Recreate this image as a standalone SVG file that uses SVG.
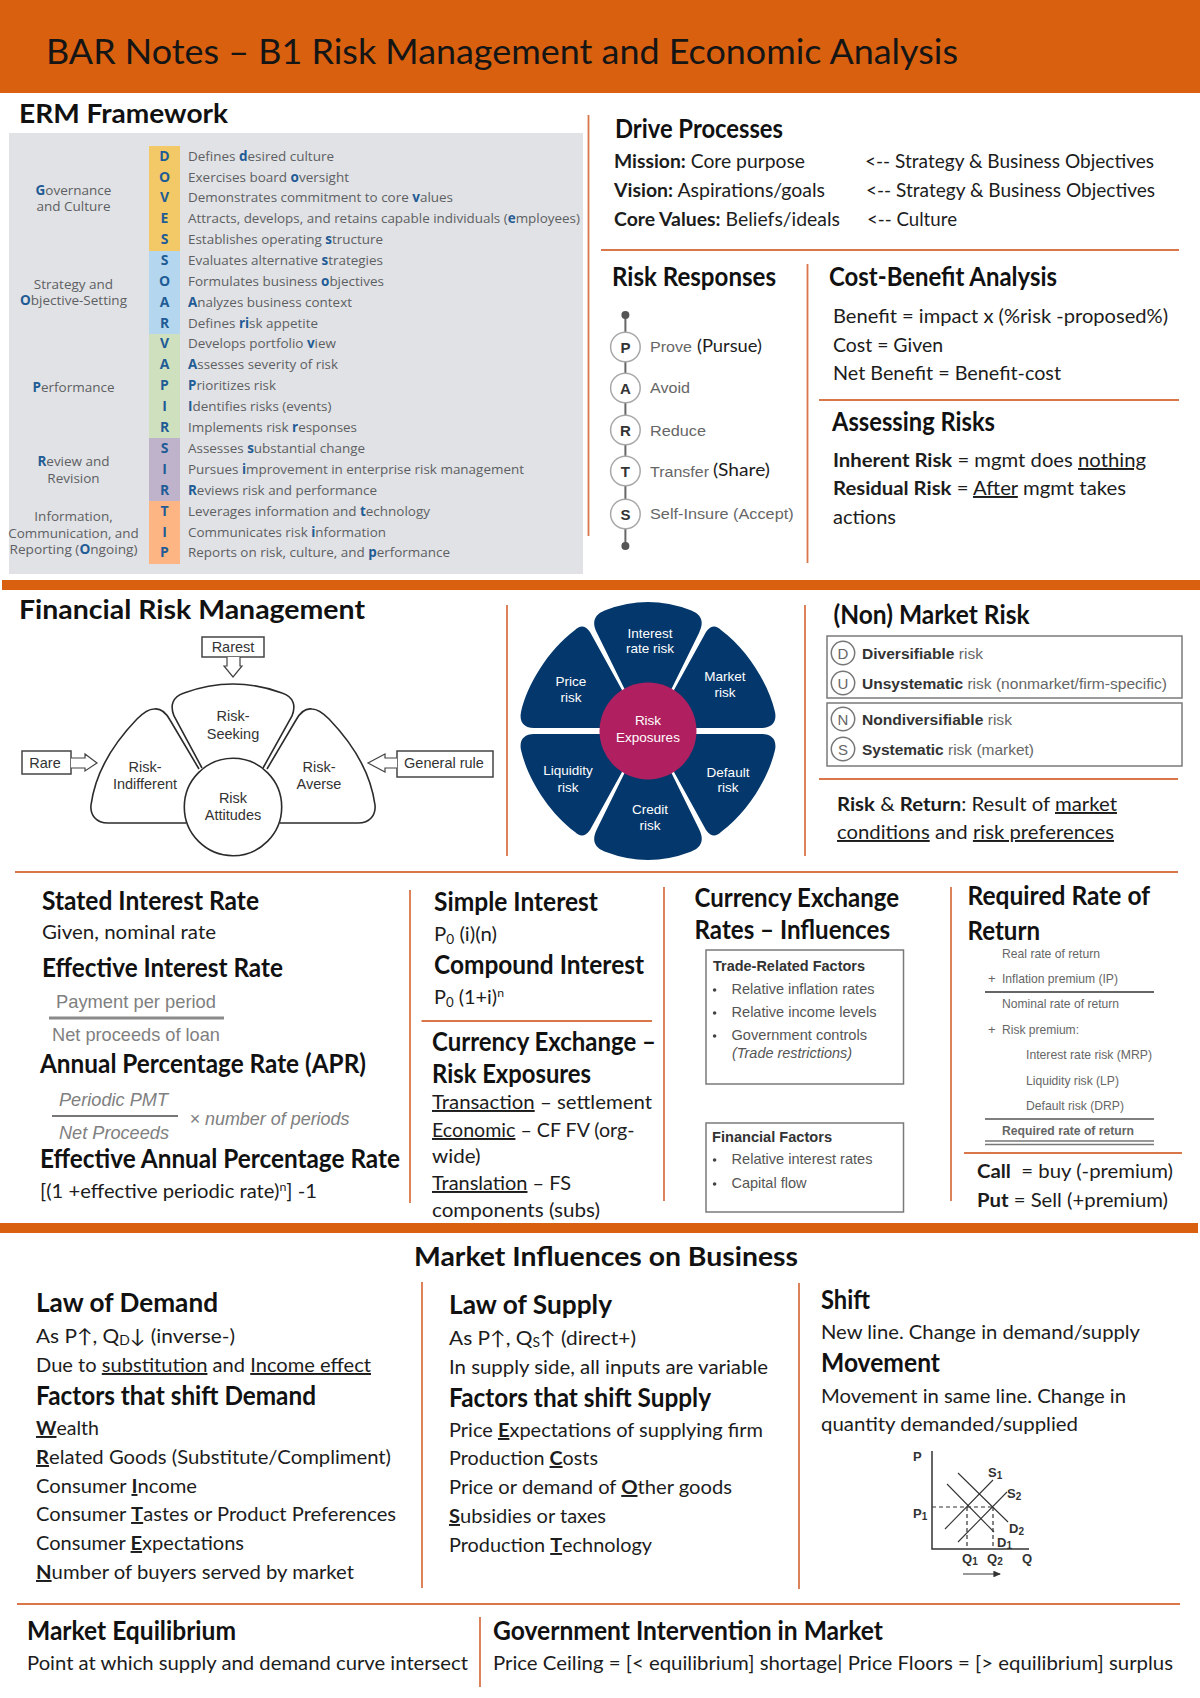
<svg xmlns="http://www.w3.org/2000/svg" xmlns:xlink="http://www.w3.org/1999/xlink" width="1200" height="1698" viewBox="0 0 1200 1698">
<style>
text{white-space:pre}
.h{font:700 26px Lato,"DejaVu Sans",sans-serif;fill:#111}
.b{font:400 19.5px Lato,"DejaVu Sans",sans-serif;fill:#1c1c1c}
.e{font:400 13.5px "Open Sans",sans-serif;fill:#5d5f63}
.eb{font-weight:700;fill:#1f5c96}
.el{font:700 14px "Open Sans",sans-serif;fill:#1f5c96;text-anchor:middle}
.a{font:400 14.5px "Liberation Sans",sans-serif;fill:#333}
.g{font:400 15px "Liberation Sans",sans-serif;fill:#666}
.gl{font:400 19px "Liberation Sans",sans-serif;fill:#808080}
.s{font:400 13px "Liberation Sans",sans-serif;fill:#666}
.wt{font:400 13.5px "Liberation Sans",sans-serif;fill:#fff;text-anchor:middle}
.k{font:700 13px "Liberation Sans",sans-serif;fill:#333}
.m{text-anchor:middle}
.w{font-weight:700}
.i{font-style:italic}
.u{text-decoration:underline}
.band{fill:#d9600f}
.hr{stroke:#d9764a;stroke-width:1.8;fill:none}
.shape{fill:#fff;stroke:#2b2b2b;stroke-width:1.6}
.box{fill:#fff;stroke:#7a7a7a;stroke-width:1.5}
.c{fill:#fff;stroke:#a8a8a8;stroke-width:1.5}
.gr{stroke:#666;stroke-width:2;fill:none}
.ch{stroke:#333;stroke-width:1.1;fill:none}
.da{stroke:#333;stroke-width:1.2;stroke-dasharray:4 3;fill:none}
</style>
<defs>
<path id="petal-side" d="M622 690L590 632C585 625 580 625 575 630C548 650 527 685 521 712C519 722 524 728 534 728L612 728Z" fill="#04386c"/>
<path id="petal-top" d="M626 692L597 633C591 621 595 614 606 610Q648 594 690 610C701 614 705 621 699 633L670 692Z" fill="#04386c"/>
<marker id="ah" markerWidth="7" markerHeight="6" refX="6" refY="3" orient="auto"><path d="M0 0L7 3L0 6Z" fill="#333"/></marker>
</defs>
<rect width="1200" height="1698" fill="#fff"/>
<g id="title-band">
<rect class="band" x="0" y="0" width="1200" height="93"/>
<text x="46" y="64" style="font:400 35px Lato,sans-serif;fill:#151515" textLength="912" lengthAdjust="spacingAndGlyphs">BAR Notes – B1 Risk Management and Economic Analysis</text>
</g>
<g id="bands">
<rect class="band" x="2" y="580" width="1198" height="10"/>
<rect class="band" x="0" y="1223" width="1198" height="10"/>
</g>
<g id="dividers">
<path class="hr" d="M588.5 115V536M807.5 264V563M601 250H1179M819 400H1179M507 605V856M805 605V856M819 779H1178M15 872H1178M410 890V1203M664 887V1201M951 887V1201M421.5 1021H652M964 1153H1182M422 1282V1588M799 1283V1589M17 1604H1180M480 1617V1687"/>
</g>
<g id="erm">
<text class="h" x="19" y="123" textLength="209" lengthAdjust="spacingAndGlyphs">ERM Framework</text>
<rect x="9" y="133" width="574" height="441" fill="#e1e2e5"/>
<rect x="149" y="146" width="31" height="105" fill="#f2c966"/>
<rect x="149" y="251" width="31" height="83" fill="#b4d7ef"/>
<rect x="149" y="334" width="31" height="104" fill="#cfe0bf"/>
<rect x="149" y="438" width="31" height="63" fill="#bfb3cc"/>
<rect x="149" y="501" width="31" height="63" fill="#fdb583"/>
<g id="erm-letters">
<text class="el" x="164.5" y="161">D</text><text class="el" x="164.5" y="182">O</text><text class="el" x="164.5" y="202">V</text><text class="el" x="164.5" y="223">E</text><text class="el" x="164.5" y="244">S</text><text class="el" x="164.5" y="265">S</text><text class="el" x="164.5" y="286">O</text><text class="el" x="164.5" y="307">A</text><text class="el" x="164.5" y="328">R</text><text class="el" x="164.5" y="348">V</text><text class="el" x="164.5" y="369">A</text><text class="el" x="164.5" y="390">P</text><text class="el" x="164.5" y="411">I</text><text class="el" x="164.5" y="432">R</text><text class="el" x="164.5" y="453">S</text><text class="el" x="164.5" y="474">I</text><text class="el" x="164.5" y="495">R</text><text class="el" x="164.5" y="516">T</text><text class="el" x="164.5" y="537">I</text><text class="el" x="164.5" y="557">P</text>
</g>
<g id="erm-rows">
<text class="e" x="188" y="161" textLength="146" lengthAdjust="spacingAndGlyphs">Defines <tspan class="eb">d</tspan>esired culture</text>
<text class="e" x="188" y="182" textLength="161" lengthAdjust="spacingAndGlyphs">Exercises board <tspan class="eb">o</tspan>versight</text>
<text class="e" x="188" y="202" textLength="265" lengthAdjust="spacingAndGlyphs">Demonstrates commitment to core <tspan class="eb">v</tspan>alues</text>
<text class="e" x="188" y="223" textLength="392" lengthAdjust="spacingAndGlyphs">Attracts, develops, and retains capable individuals (<tspan class="eb">e</tspan>mployees)</text>
<text class="e" x="188" y="244" textLength="195" lengthAdjust="spacingAndGlyphs">Establishes operating <tspan class="eb">s</tspan>tructure</text>
<text class="e" x="188" y="265" textLength="195" lengthAdjust="spacingAndGlyphs">Evaluates alternative <tspan class="eb">s</tspan>trategies</text>
<text class="e" x="188" y="286" textLength="196" lengthAdjust="spacingAndGlyphs">Formulates business <tspan class="eb">o</tspan>bjectives</text>
<text class="e" x="188" y="307" textLength="164" lengthAdjust="spacingAndGlyphs"><tspan class="eb">A</tspan>nalyzes business context</text>
<text class="e" x="188" y="328" textLength="130" lengthAdjust="spacingAndGlyphs">Defines <tspan class="eb">ri</tspan>sk appetite</text>
<text class="e" x="188" y="348" textLength="148" lengthAdjust="spacingAndGlyphs">Develops portfolio <tspan class="eb">v</tspan>iew</text>
<text class="e" x="188" y="369" textLength="150" lengthAdjust="spacingAndGlyphs"><tspan class="eb">A</tspan>ssesses severity of risk</text>
<text class="e" x="188" y="390" textLength="88" lengthAdjust="spacingAndGlyphs"><tspan class="eb">P</tspan>rioritizes risk</text>
<text class="e" x="188" y="411" textLength="143.5" lengthAdjust="spacingAndGlyphs"><tspan class="eb">I</tspan>dentifies risks (events)</text>
<text class="e" x="188" y="432" textLength="169" lengthAdjust="spacingAndGlyphs">Implements risk <tspan class="eb">r</tspan>esponses</text>
<text class="e" x="188" y="453" textLength="177" lengthAdjust="spacingAndGlyphs">Assesses <tspan class="eb">s</tspan>ubstantial change</text>
<text class="e" x="188" y="474" textLength="336" lengthAdjust="spacingAndGlyphs">Pursues <tspan class="eb">i</tspan>mprovement in enterprise risk management</text>
<text class="e" x="188" y="495" textLength="189" lengthAdjust="spacingAndGlyphs"><tspan class="eb">R</tspan>eviews risk and performance</text>
<text class="e" x="188" y="516" textLength="242" lengthAdjust="spacingAndGlyphs">Leverages information and <tspan class="eb">t</tspan>echnology</text>
<text class="e" x="188" y="537" textLength="198" lengthAdjust="spacingAndGlyphs">Communicates risk <tspan class="eb">i</tspan>nformation</text>
<text class="e" x="188" y="557" textLength="262" lengthAdjust="spacingAndGlyphs">Reports on risk, culture, and <tspan class="eb">p</tspan>erformance</text>
</g>
<g id="erm-groups">
<text class="e m" x="73.5" y="195"><tspan class="eb">G</tspan>overnance</text>
<text class="e m" x="73.5" y="211">and Culture</text>
<text class="e m" x="73.5" y="289">Strategy and</text>
<text class="e m" x="73.5" y="305"><tspan class="eb">O</tspan>bjective-Setting</text>
<text class="e m" x="73.5" y="392"><tspan class="eb">P</tspan>erformance</text>
<text class="e m" x="73.5" y="466"><tspan class="eb">R</tspan>eview and</text>
<text class="e m" x="73.5" y="483">Revision</text>
<text class="e m" x="73.5" y="521">Information,</text>
<text class="e m" x="73.5" y="538" textLength="130.5" lengthAdjust="spacingAndGlyphs">Communication, and</text>
<text class="e m" x="73.5" y="554" textLength="128" lengthAdjust="spacingAndGlyphs">Reporting (<tspan class="eb">O</tspan>ngoing)</text>
</g>
</g>
<g id="drive-processes">
<text class="h" x="615" y="138" textLength="168" lengthAdjust="spacingAndGlyphs">Drive Processes</text>
<text class="b" x="614" y="168" textLength="191" lengthAdjust="spacingAndGlyphs"><tspan class="w">Mission:</tspan> Core purpose</text>
<text class="b" x="614" y="197" textLength="211" lengthAdjust="spacingAndGlyphs"><tspan class="w">Vision:</tspan> Aspirations/goals</text>
<text class="b" x="614" y="226" textLength="226" lengthAdjust="spacingAndGlyphs"><tspan class="w">Core Values:</tspan> Beliefs/ideals</text>
<text class="b" x="865" y="168" textLength="289" lengthAdjust="spacingAndGlyphs">&lt;-- Strategy &amp; Business Objectives</text>
<text class="b" x="866" y="197" textLength="289" lengthAdjust="spacingAndGlyphs">&lt;-- Strategy &amp; Business Objectives</text>
<text class="b" x="867" y="226" textLength="90" lengthAdjust="spacingAndGlyphs">&lt;-- Culture</text>
</g>
<g id="risk-responses">
<text class="h" x="612" y="286" textLength="164" lengthAdjust="spacingAndGlyphs">Risk Responses</text>
<path class="gr" d="M625.4 315V546"/>
<circle cx="625.4" cy="315" r="4" fill="#555"/><circle cx="625.4" cy="546" r="4" fill="#555"/>
<g id="resp-p"><circle class="c" cx="625.4" cy="347" r="14.8"/><text class="k m" x="625.4" y="352.5" style="font-size:15px">P</text></g>
<g id="resp-a"><circle class="c" cx="625.4" cy="388" r="14.8"/><text class="k m" x="625.4" y="393.5" style="font-size:15px">A</text></g>
<g id="resp-r"><circle class="c" cx="625.4" cy="430" r="14.8"/><text class="k m" x="625.4" y="435.5" style="font-size:15px">R</text></g>
<g id="resp-t"><circle class="c" cx="625.4" cy="471" r="14.8"/><text class="k m" x="625.4" y="476.5" style="font-size:15px">T</text></g>
<g id="resp-s"><circle class="c" cx="625.4" cy="514" r="14.8"/><text class="k m" x="625.4" y="519.5" style="font-size:15px">S</text></g>
<text class="g" x="650" y="352" textLength="42" lengthAdjust="spacingAndGlyphs">Prove</text><text class="b" x="697" y="352" style="font-size:17.5px" textLength="65" lengthAdjust="spacingAndGlyphs">(Pursue)</text>
<text class="g" x="650" y="393" textLength="40" lengthAdjust="spacingAndGlyphs">Avoid</text>
<text class="g" x="650" y="436" textLength="56" lengthAdjust="spacingAndGlyphs">Reduce</text>
<text class="g" x="650" y="477" textLength="59" lengthAdjust="spacingAndGlyphs">Transfer</text><text class="b" x="713" y="476" style="font-size:17.5px" textLength="57" lengthAdjust="spacingAndGlyphs">(Share)</text>
<text class="g" x="650" y="519" textLength="143.6" lengthAdjust="spacingAndGlyphs">Self-Insure (Accept)</text>
</g>
<g id="cost-benefit">
<text class="h" x="829" y="286" textLength="228" lengthAdjust="spacingAndGlyphs">Cost-Benefit Analysis</text>
<text class="b" x="833" y="323" textLength="335" lengthAdjust="spacingAndGlyphs">Benefit = impact x (%risk -proposed%)</text>
<text class="b" x="833" y="352" textLength="110" lengthAdjust="spacingAndGlyphs">Cost = Given</text>
<text class="b" x="833" y="380" textLength="228" lengthAdjust="spacingAndGlyphs">Net Benefit = Benefit-cost</text>
</g>
<g id="assessing-risks">
<text class="h" x="832" y="431" textLength="163" lengthAdjust="spacingAndGlyphs">Assessing Risks</text>
<text class="b" x="833" y="467" textLength="313" lengthAdjust="spacingAndGlyphs"><tspan class="w">Inherent Risk</tspan> = mgmt does <tspan class="u">nothing</tspan></text>
<text class="b" x="833" y="495" textLength="293" lengthAdjust="spacingAndGlyphs"><tspan class="w">Residual Risk</tspan> = <tspan class="u">After</tspan> mgmt takes</text>
<text class="b" x="833" y="524" textLength="63" lengthAdjust="spacingAndGlyphs">actions</text>
</g>
<g id="risk-attitudes">
<text class="h" x="19" y="619" textLength="346" lengthAdjust="spacingAndGlyphs">Financial Risk Management</text>
<g id="att-rarest"><rect class="box" x="202" y="637" width="62" height="20" style="stroke:#444"/><text class="a m" x="233" y="652">Rarest</text>
<path class="shape" style="stroke:#444;stroke-width:1.2" d="M227 657V666H224L233 677L242 666H240V657"/></g>
<g id="att-rare"><rect class="box" x="22" y="751" width="49" height="23" style="stroke:#444"/><text class="a m" x="45" y="768">Rare</text>
<path class="shape" style="stroke:#444;stroke-width:1.2" d="M71 758H85V754L97 763L85 771V768H71"/></g>
<g id="att-general"><rect class="box" x="397" y="751" width="96" height="26" style="stroke:#444"/><text class="a m" x="444" y="768">General rule</text>
<path class="shape" style="stroke:#444;stroke-width:1.2" d="M397 758H385V754L368 763L385 772V768H397"/></g>
<g id="att-seeking"><path class="shape" d="M202 768L174 716C170 706 172 697 184 693Q233 675 282 693C294 697 296 706 292 716L263 768"/><text class="a m" x="233" y="721">Risk-</text><text class="a m" x="233" y="739">Seeking</text></g>
<g id="att-indifferent"><path class="shape" d="M199 769L170 720C165 711 160 708 154 709C148 709 143 713 137 719C112 745 95 775 91 805C90 815 96 823 108 823L186 823"/><text class="a m" x="145" y="772">Risk-</text><text class="a m" x="145" y="789">Indifferent</text></g>
<g id="att-averse"><path class="shape" d="M267 769L296 720C301 711 306 708 312 709C318 709 323 713 329 719C354 745 371 775 375 805C376 815 370 823 358 823L280 823"/><text class="a m" x="319" y="772">Risk-</text><text class="a m" x="319" y="789">Averse</text></g>
<g id="att-center"><circle class="shape" cx="233" cy="807" r="48.7"/><text class="a m" x="233" y="803">Risk</text><text class="a m" x="233" y="820">Attitudes</text></g>
</g>
<g id="risk-wheel">
<use xlink:href="#petal-top" href="#petal-top"/>
<use xlink:href="#petal-side" href="#petal-side"/>
<use xlink:href="#petal-side" href="#petal-side" transform="matrix(-1 0 0 1 1296 0)"/>
<use xlink:href="#petal-side" href="#petal-side" transform="matrix(1 0 0 -1 0 1462)"/>
<use xlink:href="#petal-side" href="#petal-side" transform="matrix(-1 0 0 -1 1296 1462)"/>
<use xlink:href="#petal-top" href="#petal-top" transform="matrix(1 0 0 -1 0 1462)"/>
<circle cx="648" cy="731" r="48.5" fill="#b01f5f"/>
<text class="wt" x="650" y="638">Interest</text><text class="wt" x="650" y="653">rate risk</text>
<text class="wt" x="725" y="681">Market</text><text class="wt" x="725" y="697">risk</text>
<text class="wt" x="571" y="686">Price</text><text class="wt" x="571" y="702">risk</text>
<text class="wt" x="648" y="725">Risk</text><text class="wt" x="648" y="742">Exposures</text>
<text class="wt" x="568" y="775">Liquidity</text><text class="wt" x="568" y="792">risk</text>
<text class="wt" x="728" y="777">Default</text><text class="wt" x="728" y="792">risk</text>
<text class="wt" x="650" y="814">Credit</text><text class="wt" x="650" y="830">risk</text>
</g>
<g id="market-risk">
<text class="h" x="833.5" y="624" textLength="196" lengthAdjust="spacingAndGlyphs">(Non) Market Risk</text>
<rect class="box" x="827" y="636" width="355" height="62"/>
<rect class="box" x="827" y="703" width="355" height="63"/>
<g id="mr-d"><circle class="c" style="stroke:#777" cx="843" cy="653" r="11.7"/><text class="g m" x="843" y="658.5">D</text><text class="a" x="862" y="659" textLength="121" lengthAdjust="spacingAndGlyphs" style="fill:#666"><tspan class="w" fill="#333">Diversifiable</tspan> risk</text></g>
<g id="mr-u"><circle class="c" style="stroke:#777" cx="843" cy="683" r="11.7"/><text class="g m" x="843" y="688.5">U</text><text class="a" x="862" y="689" textLength="305" lengthAdjust="spacingAndGlyphs" style="fill:#666"><tspan class="w" fill="#333">Unsystematic</tspan> risk (nonmarket/firm-specific)</text></g>
<g id="mr-n"><circle class="c" style="stroke:#777" cx="843" cy="719" r="11.7"/><text class="g m" x="843" y="724.5">N</text><text class="a" x="862" y="725" textLength="150" lengthAdjust="spacingAndGlyphs" style="fill:#666"><tspan class="w" fill="#333">Nondiversifiable</tspan> risk</text></g>
<g id="mr-s"><circle class="c" style="stroke:#777" cx="843" cy="749" r="11.7"/><text class="g m" x="843" y="754.5">S</text><text class="a" x="862" y="755" textLength="172" lengthAdjust="spacingAndGlyphs" style="fill:#666"><tspan class="w" fill="#333">Systematic</tspan> risk (market)</text></g>
<text class="b" x="837" y="811" textLength="280" lengthAdjust="spacingAndGlyphs"><tspan class="w">Risk</tspan> &amp; <tspan class="w">Return</tspan>: Result of <tspan class="u">market</tspan></text>
<text class="b" x="837" y="839" textLength="277" lengthAdjust="spacingAndGlyphs"><tspan class="u">conditions</tspan> and <tspan class="u">risk preferences</tspan></text>
</g>
<g id="interest-rates">
<text class="h" x="42" y="910" textLength="217" lengthAdjust="spacingAndGlyphs">Stated Interest Rate</text>
<text class="b" x="42" y="939" textLength="174" lengthAdjust="spacingAndGlyphs">Given, nominal rate</text>
<text class="h" x="42" y="977" textLength="241" lengthAdjust="spacingAndGlyphs">Effective Interest Rate</text>
<text class="gl" x="56" y="1008" textLength="160" lengthAdjust="spacingAndGlyphs">Payment per period</text>
<path d="M49 1018H224" stroke="#8a8a8a" stroke-width="3"/>
<text class="gl" x="52" y="1041" textLength="168" lengthAdjust="spacingAndGlyphs">Net proceeds of loan</text>
<text class="h" x="40" y="1073" textLength="326" lengthAdjust="spacingAndGlyphs">Annual Percentage Rate (APR)</text>
<text class="gl i" x="59" y="1106" textLength="109" lengthAdjust="spacingAndGlyphs">Periodic PMT</text>
<path d="M52 1116H178" stroke="#777" stroke-width="2"/>
<text class="gl i" x="59" y="1139" textLength="110" lengthAdjust="spacingAndGlyphs">Net Proceeds</text>
<text class="gl i" x="189.5" y="1125" textLength="160" lengthAdjust="spacingAndGlyphs">× number of periods</text>
<text class="h" x="40" y="1168" textLength="360" lengthAdjust="spacingAndGlyphs">Effective Annual Percentage Rate</text>
<text class="b" x="40" y="1198" textLength="277" lengthAdjust="spacingAndGlyphs">[(1 +effective periodic rate)<tspan dy="-7" font-size="12">n</tspan><tspan dy="7">] -1</tspan></text>
</g>
<g id="simple-compound">
<text class="h" x="434" y="911" textLength="164" lengthAdjust="spacingAndGlyphs">Simple Interest</text>
<text class="b" x="434" y="941" textLength="63" lengthAdjust="spacingAndGlyphs">P<tspan dy="3" font-size="13">0</tspan><tspan dy="-3"> (i)(n)</tspan></text>
<text class="h" x="434" y="974" textLength="210" lengthAdjust="spacingAndGlyphs">Compound Interest</text>
<text class="b" x="434" y="1004" textLength="70" lengthAdjust="spacingAndGlyphs">P<tspan dy="3" font-size="13">0</tspan><tspan dy="-3"> (1+i)</tspan><tspan dy="-7" font-size="12">n</tspan></text>
</g>
<g id="fx-exposures">
<text class="h" x="432" y="1051" textLength="224" lengthAdjust="spacingAndGlyphs">Currency Exchange –</text>
<text class="h" x="432" y="1083" textLength="159" lengthAdjust="spacingAndGlyphs">Risk Exposures</text>
<text class="b" x="432" y="1109" textLength="220" lengthAdjust="spacingAndGlyphs"><tspan class="u">Transaction</tspan> – settlement</text>
<text class="b" x="432" y="1137" textLength="202.5" lengthAdjust="spacingAndGlyphs"><tspan class="u">Economic</tspan> – CF FV (org-</text>
<text class="b" x="432" y="1163" textLength="48.6" lengthAdjust="spacingAndGlyphs">wide)</text>
<text class="b" x="432" y="1190" textLength="139" lengthAdjust="spacingAndGlyphs"><tspan class="u">Translation</tspan> – FS</text>
<text class="b" x="432" y="1217" textLength="168" lengthAdjust="spacingAndGlyphs">components (subs)</text>
</g>
<g id="fx-influences">
<text class="h" x="694.5" y="907" textLength="204.5" lengthAdjust="spacingAndGlyphs">Currency Exchange</text>
<text class="h" x="694.5" y="939" textLength="195.5" lengthAdjust="spacingAndGlyphs">Rates – Influences</text>
<g id="trade-factors">
<rect class="box" x="706" y="950" width="197.5" height="134"/>
<text class="a w" x="713" y="971" textLength="152" lengthAdjust="spacingAndGlyphs">Trade-Related Factors</text>
<circle cx="714.6" cy="990" r="1.8" fill="#444"/><text class="a" x="731.5" y="994" textLength="143" lengthAdjust="spacingAndGlyphs" style="fill:#555">Relative inflation rates</text>
<circle cx="714.6" cy="1013" r="1.8" fill="#444"/><text class="a" x="731.5" y="1017" textLength="145" lengthAdjust="spacingAndGlyphs" style="fill:#555">Relative income levels</text>
<circle cx="714.6" cy="1036" r="1.8" fill="#444"/><text class="a" x="731.5" y="1040" textLength="135.5" lengthAdjust="spacingAndGlyphs" style="fill:#555">Government controls</text>
<text class="a i" x="732" y="1058" textLength="120" lengthAdjust="spacingAndGlyphs" style="fill:#555">(Trade restrictions)</text>
</g>
<g id="financial-factors">
<rect class="box" x="706" y="1123" width="197.5" height="89"/>
<text class="a w" x="712" y="1142" textLength="120" lengthAdjust="spacingAndGlyphs">Financial Factors</text>
<circle cx="714.6" cy="1160" r="1.8" fill="#444"/><text class="a" x="731.5" y="1164" textLength="141" lengthAdjust="spacingAndGlyphs" style="fill:#555">Relative interest rates</text>
<circle cx="714.6" cy="1184" r="1.8" fill="#444"/><text class="a" x="731.5" y="1188" textLength="75" lengthAdjust="spacingAndGlyphs" style="fill:#555">Capital flow</text>
</g>
</g>
<g id="required-return">
<text class="h" x="967.5" y="905" textLength="182.5" lengthAdjust="spacingAndGlyphs">Required Rate of</text>
<text class="h" x="967.5" y="940" textLength="72.5" lengthAdjust="spacingAndGlyphs">Return</text>
<text class="s" x="1002" y="958" textLength="98" lengthAdjust="spacingAndGlyphs">Real rate of return</text>
<text class="s" x="988" y="983">+</text><text class="s" x="1002" y="983" textLength="116" lengthAdjust="spacingAndGlyphs">Inflation premium (IP)</text>
<path d="M985 992H1154" stroke="#666" stroke-width="2"/>
<text class="s" x="1002" y="1008" textLength="117" lengthAdjust="spacingAndGlyphs">Nominal rate of return</text>
<text class="s" x="988" y="1034">+</text><text class="s" x="1002" y="1034" textLength="77" lengthAdjust="spacingAndGlyphs">Risk premium:</text>
<text class="s" x="1026" y="1059" textLength="126" lengthAdjust="spacingAndGlyphs">Interest rate risk (MRP)</text>
<text class="s" x="1026" y="1085" textLength="93" lengthAdjust="spacingAndGlyphs">Liquidity risk (LP)</text>
<text class="s" x="1026" y="1110" textLength="98" lengthAdjust="spacingAndGlyphs">Default risk (DRP)</text>
<path d="M985 1119H1154" stroke="#555" stroke-width="1.5"/>
<text class="s w" x="1002" y="1135" textLength="132" lengthAdjust="spacingAndGlyphs">Required rate of return</text>
<path d="M985 1141H1154M985 1144.5H1154" stroke="#777" stroke-width="1.5"/>
<text class="b" x="977" y="1178" textLength="196" lengthAdjust="spacingAndGlyphs"><tspan class="w">Call</tspan>  = buy (-premium)</text>
<text class="b" x="977" y="1207" textLength="191" lengthAdjust="spacingAndGlyphs"><tspan class="w">Put</tspan> = Sell (+premium)</text>
</g>
<g id="market-influences">
<text class="h" x="414" y="1266" textLength="384" lengthAdjust="spacingAndGlyphs">Market Influences on Business</text>
</g>
<g id="law-demand">
<text class="h" x="36" y="1312" textLength="182" lengthAdjust="spacingAndGlyphs">Law of Demand</text>
<text class="b" x="36" y="1343" textLength="199" lengthAdjust="spacingAndGlyphs">As P↑, Q<tspan dy="2" font-size="13">D</tspan><tspan dy="-2">↓ (inverse-)</tspan></text>
<text class="b" x="36" y="1372" textLength="335" lengthAdjust="spacingAndGlyphs">Due to <tspan class="u">substitution</tspan> and <tspan class="u">Income effect</tspan></text>
<text class="h" x="36" y="1405" textLength="280" lengthAdjust="spacingAndGlyphs">Factors that shift Demand</text>
<text class="b" x="36" y="1435" textLength="63" lengthAdjust="spacingAndGlyphs"><tspan class="w u">W</tspan>ealth</text>
<text class="b" x="36" y="1464" textLength="355" lengthAdjust="spacingAndGlyphs"><tspan class="w u">R</tspan>elated Goods (Substitute/Compliment)</text>
<text class="b" x="36" y="1493" textLength="161" lengthAdjust="spacingAndGlyphs">Consumer <tspan class="w u">I</tspan>ncome</text>
<text class="b" x="36" y="1521" textLength="360" lengthAdjust="spacingAndGlyphs">Consumer <tspan class="w u">T</tspan>astes or Product Preferences</text>
<text class="b" x="36" y="1550" textLength="208" lengthAdjust="spacingAndGlyphs">Consumer <tspan class="w u">E</tspan>xpectations</text>
<text class="b" x="36" y="1579" textLength="318" lengthAdjust="spacingAndGlyphs"><tspan class="w u">N</tspan>umber of buyers served by market</text>
</g>
<g id="law-supply">
<text class="h" x="449" y="1314" textLength="163" lengthAdjust="spacingAndGlyphs">Law of Supply</text>
<text class="b" x="449" y="1345" textLength="187" lengthAdjust="spacingAndGlyphs">As P↑, Q<tspan dy="2" font-size="13">S</tspan><tspan dy="-2">↑ (direct+)</tspan></text>
<text class="b" x="449" y="1374" textLength="319" lengthAdjust="spacingAndGlyphs">In supply side, all inputs are variable</text>
<text class="h" x="449" y="1407" textLength="262" lengthAdjust="spacingAndGlyphs">Factors that shift Supply</text>
<text class="b" x="449" y="1437" textLength="314" lengthAdjust="spacingAndGlyphs">Price <tspan class="w u">E</tspan>xpectations of supplying firm</text>
<text class="b" x="449" y="1465" textLength="149" lengthAdjust="spacingAndGlyphs">Production <tspan class="w u">C</tspan>osts</text>
<text class="b" x="449" y="1494" textLength="283" lengthAdjust="spacingAndGlyphs">Price or demand of <tspan class="w u">O</tspan>ther goods</text>
<text class="b" x="449" y="1523" textLength="157" lengthAdjust="spacingAndGlyphs"><tspan class="w u">S</tspan>ubsidies or taxes</text>
<text class="b" x="449" y="1552" textLength="203" lengthAdjust="spacingAndGlyphs">Production <tspan class="w u">T</tspan>echnology</text>
</g>
<g id="shift-movement">
<text class="h" x="821" y="1309" textLength="49" lengthAdjust="spacingAndGlyphs">Shift</text>
<text class="b" x="821" y="1339" textLength="319" lengthAdjust="spacingAndGlyphs">New line. Change in demand/supply</text>
<text class="h" x="821" y="1372" textLength="119" lengthAdjust="spacingAndGlyphs">Movement</text>
<text class="b" x="821" y="1403" textLength="305" lengthAdjust="spacingAndGlyphs">Movement in same line. Change in</text>
<text class="b" x="821" y="1431" textLength="257" lengthAdjust="spacingAndGlyphs">quantity demanded/supplied</text>
</g>
<g id="supply-demand-chart">
<path d="M932 1451V1549H1029" stroke="#333" stroke-width="1.5" fill="none"/>
<path class="da" d="M932 1507H993M967 1507V1549M993 1507V1549"/>
<path class="ch" d="M945 1529L993 1480M958 1542L1007 1492M947 1484L994 1532M958 1473L1008 1522"/>
<path class="ch" d="M963 1574H1000" marker-end="url(#ah)"/>
<text class="k" x="913" y="1461">P</text>
<text class="k" x="913" y="1518">P<tspan dy="2" font-size="10">1</tspan></text>
<text class="k" x="988" y="1477">S<tspan dy="2" font-size="10">1</tspan></text>
<text class="k" x="1007" y="1498">S<tspan dy="2" font-size="10">2</tspan></text>
<text class="k" x="997" y="1547">D<tspan dy="2" font-size="10">1</tspan></text>
<text class="k" x="1009" y="1533">D<tspan dy="2" font-size="10">2</tspan></text>
<text class="k" x="962" y="1563">Q<tspan dy="2" font-size="10">1</tspan></text>
<text class="k" x="987" y="1563">Q<tspan dy="2" font-size="10">2</tspan></text>
<text class="k" x="1022" y="1563">Q</text>
</g>
<g id="equilibrium">
<text class="h" x="27" y="1640" textLength="209" lengthAdjust="spacingAndGlyphs">Market Equilibrium</text>
<text class="b" x="27" y="1670" textLength="441" lengthAdjust="spacingAndGlyphs">Point at which supply and demand curve intersect</text>
</g>
<g id="government">
<text class="h" x="493" y="1640" textLength="390" lengthAdjust="spacingAndGlyphs">Government Intervention in Market</text>
<text class="b" x="493" y="1670" textLength="680" lengthAdjust="spacingAndGlyphs">Price Ceiling = [&lt; equilibrium] shortage| Price Floors = [&gt; equilibrium] surplus</text>
</g>
</svg>
